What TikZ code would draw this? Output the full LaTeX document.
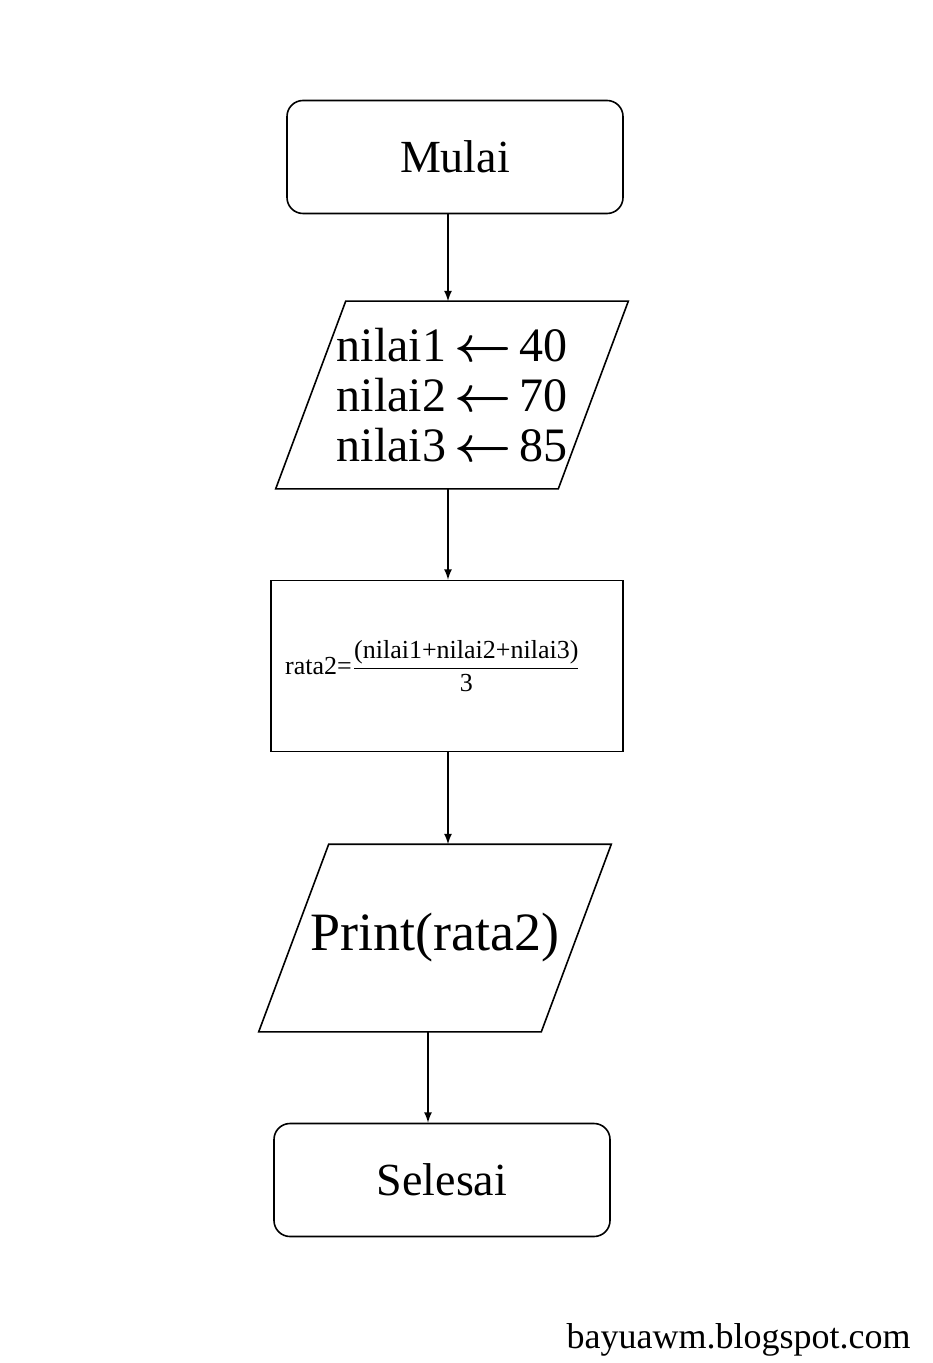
\documentclass[tikz,border=0pt]{standalone}
\usepackage{amsmath}
\usepackage{fontspec}
\setmainfont{Liberation Serif}
\usetikzlibrary{arrows}
\tikzset{
  term/.style={draw,rounded corners=8pt,minimum width=168pt,minimum height=56.5pt,font=\fontsize{23}{25}\selectfont},
  io/.style={minimum width=140.5pt,minimum height=93pt,inner sep=0pt},
  slant/.style={draw,line width=0.8pt},
  proc/.style={draw,minimum width=176pt,minimum height=85.5pt,inner sep=2pt},
  arr/.style={->,>=latex,line width=0.8pt},
  every node/.append style={line width=0.8pt}
}
\begin{document}
\begin{tikzpicture}[x=0.5pt,y=-0.5pt]
\useasboundingbox (0,0) rectangle (932,1363);
\node[term] (mulai) at (455,157) {Mulai};
\node[io,font=\fontsize{24}{25}\selectfont,align=left] (input) at (452,395)
  {nilai1\,{\boldmath$\leftarrow$}\,40\\nilai2\,{\boldmath$\leftarrow$}\,70\\nilai3\,{\boldmath$\leftarrow$}\,85};
\draw[slant] ([xshift=17.5pt]input.north west) -- ([xshift=17.5pt]input.north east)
  -- ([xshift=-17.5pt]input.south east) -- ([xshift=-17.5pt]input.south west) -- cycle;
\node[proc,font=\fontsize{13}{15}\selectfont] (hitung) at (447,666)
  {\hspace*{-14pt}rata2=$\dfrac{\mbox{(nilai1+nilai2+nilai3)}}{\mbox{3}}$};
\node[io,font=\fontsize{27}{28}\selectfont] (cetak) at (435,938) {Print(rata2)};
\draw[slant] ([xshift=17.5pt]cetak.north west) -- ([xshift=17.5pt]cetak.north east)
  -- ([xshift=-17.5pt]cetak.south east) -- ([xshift=-17.5pt]cetak.south west) -- cycle;
\node[term] (selesai) at (442,1180) {Selesai};
\draw[arr] (mulai.south -| 448,0) -- (input.north -| 448,0);
\draw[arr] (input.south -| 448,0) -- (hitung.north -| 448,0);
\draw[arr] (hitung.south -| 448,0) -- (cetak.north -| 448,0);
\draw[arr] (cetak.south -| 428,0) -- (selesai.north -| 428,0);
\node[font=\fontsize{18}{20}\selectfont,anchor=east] (blog) at (918,1340) {bayuawm.blogspot.com};
\end{tikzpicture}
\end{document}
